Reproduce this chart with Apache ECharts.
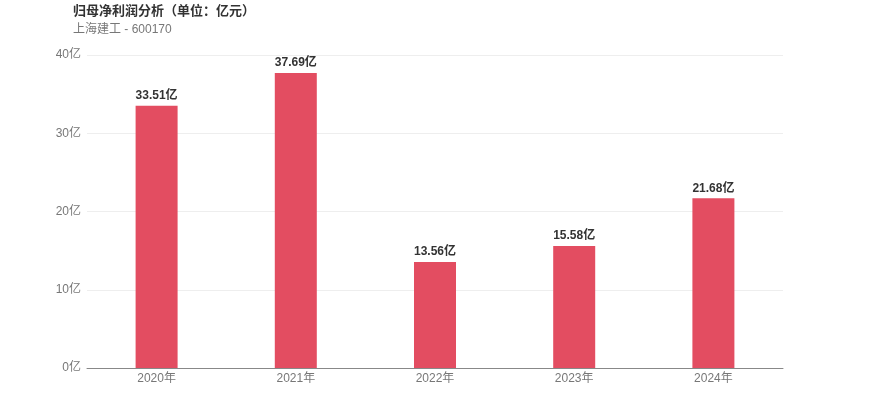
<!DOCTYPE html>
<html><head><meta charset="utf-8">
<script src="https://cdn.jsdelivr.net/npm/echarts@6/dist/echarts.min.js"></script>
<style>html,body{margin:0;padding:0;background:#fff}#c{width:870px;height:417px}</style>
</head><body><div id="c"></div>
<script>
const categories = ['2020年','2021年','2022年','2023年','2024年'];
const values = [33.51, 37.69, 13.56, 15.58, 21.68];
const yTicks = [0, 10, 20, 30, 40];
const FONT = '"Liberation Sans", Arial, "Noto Sans CJK SC", sans-serif';
const chart = echarts.init(document.getElementById('c'));
chart.setOption({
  animation: false,
  textStyle: {fontFamily: FONT},
  title: {
    text: '归母净利润分析（单位：亿元）',
    subtext: '上海建工 - 600170',
    left: 68, top: 0,
    itemGap: 6,
    textStyle: {fontSize: 13, fontWeight: 'bold', color: '#333', fontFamily: FONT},
    subtextStyle: {fontSize: 12, color: '#777', fontFamily: FONT}
  },
  grid: {left: 87, right: 87, top: 55, bottom: 49},
  xAxis: {
    type: 'category', data: categories,
    axisLine: {lineStyle: {color: '#888'}},
    axisTick: {show: false},
    axisLabel: {color: '#777', fontSize: 12, margin: 5, fontFamily: FONT}
  },
  yAxis: {
    type: 'value', min: yTicks[0], max: yTicks[yTicks.length-1], interval: 10,
    axisLine: {show: false}, axisTick: {show: false},
    splitLine: {lineStyle: {color: '#eee'}},
    axisLabel: {color: '#777', fontSize: 12, margin: 6, formatter: v => v + '亿', fontFamily: FONT}
  },
  series: [{
    type: 'bar', data: values, barWidth: 42,
    itemStyle: {color: '#E34D61'},
    label: {show: true, position: 'top', formatter: p => p.value.toFixed(2) + '亿',
      color: '#333', fontWeight: 'bold', fontSize: 12, distance: 4, fontFamily: FONT}
  }]
});
</script></body></html>
